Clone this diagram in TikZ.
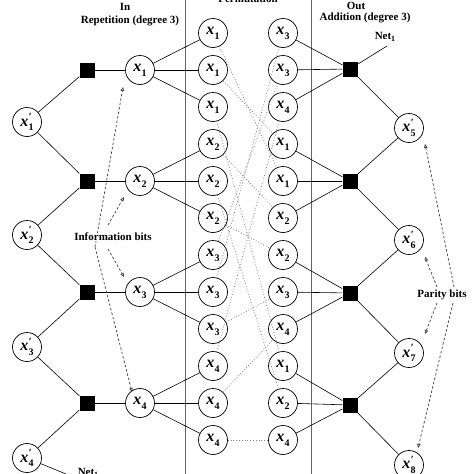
\documentclass[tikz,border=0pt]{standalone}
\usepackage{fontspec}
\setmainfont{Liberation Serif}
\usetikzlibrary{arrows.meta}
\newcommand\xv[1]{{\bfseries\itshape x}\kern0.3pt\raisebox{-0.3em}{\fontsize{10}{10}\selectfont\bfseries #1}}
\newcommand\xq[1]{{\bfseries\itshape x}\kern0.3pt\rlap{\raisebox{0.35em}{\fontsize{11}{11}\selectfont\bfseries\itshape ′}}\raisebox{-0.3em}{\fontsize{10}{10}\selectfont\bfseries #1}}
\tikzset{
  var/.style={circle,draw,line width=0.7pt,minimum size=29pt,inner sep=0pt,font=\fontsize{16}{18}\selectfont},
  chk/.style={rectangle,fill=black,minimum size=15pt,inner sep=0pt},
  lbl/.style={font=\fontsize{11}{13}\selectfont\bfseries,inner sep=1pt},
  edge/.style={line width=0.6pt},
  perm/.style={gray,dotted,line width=0.8pt},
  hint/.style={dashed,dash pattern=on 2.5pt off 2pt,line width=0.7pt,black!75,-{Triangle[open,length=4pt,width=3.5pt]}},
  sep/.style={gray!80!black,line width=0.7pt}
}
\begin{document}
\begin{tikzpicture}[x=1pt,y=-1pt]
\useasboundingbox (0,0) rectangle (474,474);
% separators
\draw[sep] (185,0) -- (185,474);
\draw[sep] (311,0) -- (311,474);
% headers
\node[lbl] (hin) at (125,7) {In};
\node[lbl] (hrep) at (130,21) {Repetition (degree 3)};
\node[lbl] (hperm) at (248,-1) {Permutation};
\node[lbl] (hout) at (356,6) {Out};
\node[lbl] (hadd) at (365,18) {Addition (degree 3)};
% permutation columns
\foreach \i/\t in {1/1,2/1,3/1,4/2,5/2,6/2,7/3,8/3,9/3,10/4,11/4,12/4}{
  \node[var] (L\i) at (213,{33+37*(\i-1)}) {\xv{\t}};
}
\foreach \i/\t in {1/3,2/3,3/4,4/1,5/1,6/2,7/2,8/3,9/4,10/1,11/2,12/4}{
  \node[var] (R\i) at (283,{33+37*(\i-1)}) {\xv{\t}};
}
% left side
\foreach \k/\y in {1/70,2/181,3/292,4/403}{
  \node[var] (xa\k) at (140,\y) {\xv{\k}};
  \node[chk] (lq\k) at (87,\y) {};
}
\node[var] (xp1) at (27,122) {\xq{1}};
\node[var] (xp2) at (27,235) {\xq{2}};
\node[var] (xp3) at (27,347) {\xq{3}};
\node[var] (xp4) at (27,458) {\xq{4}};
\coordinate (netL) at (66,474);
\node[lbl] (netLt) at (88,473) {Net\raisebox{-0.25em}{\fontsize{8}{8}\selectfont 1}};
% right side
\node[chk] (rq1) at (350,69) {};
\node[chk] (rq2) at (350,181) {};
\node[chk] (rq3) at (350,293) {};
\node[chk] (rq4) at (350,405) {};
\node[var] (xp5) at (409,128) {\xq{5}};
\node[var] (xp6) at (409,240) {\xq{6}};
\node[var] (xp7) at (409,353) {\xq{7}};
\node[var] (xp8) at (409,465) {\xq{8}};
\coordinate (netR) at (387,46);
\node[lbl] (netRt) at (385,37) {Net\raisebox{-0.25em}{\fontsize{8}{8}\selectfont 1}};
% left edges
\draw[edge] (lq1) -- (xp1) -- (lq2) -- (xp2) -- (lq3) -- (xp3) -- (lq4) -- (xp4) -- (netL);
\foreach \k in {1,2,3,4}{ \draw[edge] (lq\k) -- (xa\k); }
\draw[edge] (xa1) -- (L1); \draw[edge] (xa1) -- (L2); \draw[edge] (xa1) -- (L3);
\draw[edge] (xa2) -- (L4); \draw[edge] (xa2) -- (L5); \draw[edge] (xa2) -- (L6);
\draw[edge] (xa3) -- (L7); \draw[edge] (xa3) -- (L8); \draw[edge] (xa3) -- (L9);
\draw[edge] (xa4) -- (L10); \draw[edge] (xa4) -- (L11); \draw[edge] (xa4) -- (L12);
% right edges
\draw[edge] (R1) -- (rq1); \draw[edge] (R2) -- (rq1); \draw[edge] (R3) -- (rq1);
\draw[edge] (R4) -- (rq2); \draw[edge] (R5) -- (rq2); \draw[edge] (R6) -- (rq2);
\draw[edge] (R7) -- (rq3); \draw[edge] (R8) -- (rq3); \draw[edge] (R9) -- (rq3);
\draw[edge] (R10) -- (rq4); \draw[edge] (R11) -- (rq4); \draw[edge] (R12) -- (rq4);
\draw[edge] (netR) -- (rq1) -- (xp5) -- (rq2) -- (xp6) -- (rq3) -- (xp7) -- (rq4) -- (xp8);
% permutation
\foreach \a/\b in {1/5,2/4,3/10,4/6,5/11,6/7,7/2,8/1,9/8,10/3,11/9,12/12}{
  \draw[perm] (L\a) -- (R\b);
}
% information bits
\coordinate (iv) at (95,247);
\draw[hint] (iv) -- (123,87);
\draw[hint] (108,225) -- (124,197);
\draw[hint] (108,249) -- (124,277);
\draw[hint] (iv) -- (132,392);
\node[lbl,fill=white,inner sep=0.5pt] (info) at (113,237) {Information bits};
% parity bits
\draw[hint] (454,287) -- (425,144);
\draw[hint] (437,287) -- (425,257);
\draw[hint] (437,303) -- (425,334);
\draw[hint] (453,303) -- (418,448);
\node[lbl] (par) at (442,295) {Parity bits};
\end{tikzpicture}
\end{document}
